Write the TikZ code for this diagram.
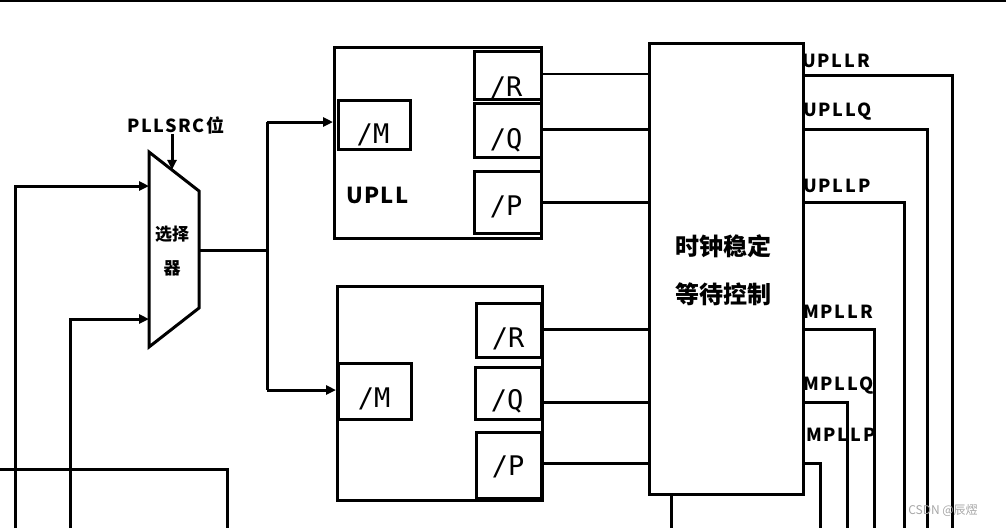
\documentclass[tikz,border=0pt]{standalone}
\usepackage{fontspec}
\setmainfont{Noto Sans CJK SC}
\newfontfamily\cjk{Noto Sans CJK SC}
\newfontfamily\monof{DejaVu Sans Mono}
\usetikzlibrary{arrows.meta,calc}
\begin{document}
\begin{tikzpicture}[x=1pt,y=-1pt,
  wire/.style={line width=3pt},
  thinwire/.style={line width=2.4pt},
  arr/.style={wire,-{Triangle[length=10pt,width=9pt]}},
  blk/.style={draw,line width=3pt,inner sep=0pt,anchor=north west},
  divtxt/.style={font=\monof\fontsize{27}{27}\selectfont,anchor=base,inner sep=0pt},
  sig/.style={font=\cjk\bfseries\fontsize{18}{18}\selectfont\addfontfeature{LetterSpace=10},anchor=base west,inner sep=0pt},
  cn/.style={font=\cjk\bfseries,inner sep=0pt}]
\useasboundingbox (0,0) rectangle (1006,528);
% top border
\draw[line width=2pt] (0,1) -- (1006,1);

% multiplexer
\coordinate (mtl) at (149,152);
\coordinate (mtr) at (199,191);
\coordinate (mbr) at (199,308);
\coordinate (mbl) at (149,347);
\draw[wire,line join=miter] (mtl) -- (mtr) -- (mbr) -- (mbl) -- cycle;
\node[cn,font=\cjk\bfseries\fontsize{17}{17}\selectfont] (sel1) at (172,234) {选择};
\node[cn,font=\cjk\bfseries\fontsize{17}{17}\selectfont] (sel2) at (172,268) {器};
\node[cn,font=\cjk\bfseries\fontsize{18}{18}\selectfont\addfontfeature{LetterSpace=8}] (src) at (176,125) {PLLSRC位};
\coordinate (muxtop) at ($(mtl)!0.46!(mtr)$);
\draw[arr] (src.south -| muxtop) -- (muxtop);

% inputs
\coordinate (in1) at (15,528);
\coordinate (in2) at (70,528);
\coordinate (mi1) at (149,186);
\coordinate (mi2) at (149,319);
\draw[arr] (in1) |- (mi1);
\draw[arr] (in2) |- (mi2);
\coordinate (lw) at (0,469);
\coordinate (lb) at (227,528);
\draw[wire] (lw) -| (lb);

% UPLL block
\node[blk,minimum width=207pt,minimum height=191pt] (upll) at (333,46) {};
\node[blk,minimum width=72pt,minimum height=49pt] (um) at (337,99) {};
\node[blk,minimum width=67pt,minimum height=48pt] (ur) at (473,50) {};
\node[blk,minimum width=67pt,minimum height=54pt] (uq) at (473,102) {};
\node[blk,minimum width=67pt,minimum height=62pt] (up) at (473,170) {};
\node[divtxt] (umt) at (373,143) {/M};
\node[divtxt] (urt) at (506,96) {/R};
\node[divtxt] (uqt) at (506,148) {/Q};
\node[divtxt] (upt) at (506,215) {/P};
\node[cn,font=\cjk\bfseries\fontsize{22}{22}\selectfont\addfontfeature{LetterSpace=6},anchor=base west] (upllt) at (346,203) {UPLL};

% MPLL block
\node[blk,minimum width=205pt,minimum height=214pt] (mpll) at (336,285) {};
\node[blk,minimum width=73pt,minimum height=56pt] (mm) at (337,362) {};
\node[blk,minimum width=65pt,minimum height=54pt] (mr) at (475,302) {};
\node[blk,minimum width=66pt,minimum height=52pt] (mq) at (474,366) {};
\node[blk,minimum width=65pt,minimum height=66pt] (mp) at (475,431) {};
\node[divtxt] (mmt) at (374,407) {/M};
\node[divtxt] (mrt) at (508,347) {/R};
\node[divtxt] (mqt) at (507,409) {/Q};
\node[divtxt] (mpt) at (508,475) {/P};

% selector output to both PLLs
\coordinate (mo) at (199,250);
\coordinate (jt) at (267,122);
\coordinate (jb) at (267,390);
\coordinate (jm) at (267,250);
\draw[wire] (mo) -- (jm);
\draw[wire] (jt) -- (jb);
\draw[arr] (jt) -- (upll.west |- jt);
\draw[arr] (jb) -- (mpll.west |- jb);

% control block
\node[blk,minimum width=154pt,minimum height=451pt] (ctrl) at (648,42) {};
\node[cn,font=\cjk\bfseries\fontsize{24}{24}\selectfont] (c1) at (723,246) {时钟稳定};
\node[cn,font=\cjk\bfseries\fontsize{24}{24}\selectfont] (c2) at (723,294) {等待控制};
\coordinate (cb) at (671,528);
\draw[wire] (ctrl.south -| cb) -- (cb);

% divider outputs into control
\draw[thinwire] (ur.east |- 0,74) -- (ctrl.west |- 0,74);
\draw[wire] (uq.east |- 0,129) -- (ctrl.west |- 0,129);
\draw[wire] (up.east |- 0,202) -- (ctrl.west |- 0,202);
\draw[wire] (mr.east |- 0,329) -- (ctrl.west |- 0,329);
\draw[wire] (mq.east |- 0,402) -- (ctrl.west |- 0,402);
\draw[wire] (mp.east |- 0,463) -- (ctrl.west |- 0,463);

% control outputs
\coordinate (o1) at (952,528);
\coordinate (o2) at (927,528);
\coordinate (o3) at (904,528);
\coordinate (o4) at (874,528);
\coordinate (o5) at (847,528);
\coordinate (o6) at (820,528);
\draw[wire] (ctrl.east |- 0,75) -| (o1);
\draw[wire] (ctrl.east |- 0,129) -| (o2);
\draw[wire] (ctrl.east |- 0,202) -| (o3);
\draw[wire] (ctrl.east |- 0,329) -| (o4);
\draw[wire] (ctrl.east |- 0,402) -| (o5);
\draw[wire] (ctrl.east |- 0,463) -| (o6);
\node[sig] (l1) at (802,67) {UPLLR};
\node[sig] (l2) at (803,116) {UPLLQ};
\node[sig] (l3) at (803,192) {UPLLP};
\node[sig] (l4) at (803,318) {MPLLR};
\node[sig] (l5) at (803,390) {MPLLQ};
\node[sig] (l6) at (806,441) {MPLLP};

% watermark
\node[font=\cjk\fontsize{12}{12}\selectfont,text=black!35,inner sep=0pt] (wm) at (943,511) {CSDN @辰熤};
\end{tikzpicture}
\end{document}
